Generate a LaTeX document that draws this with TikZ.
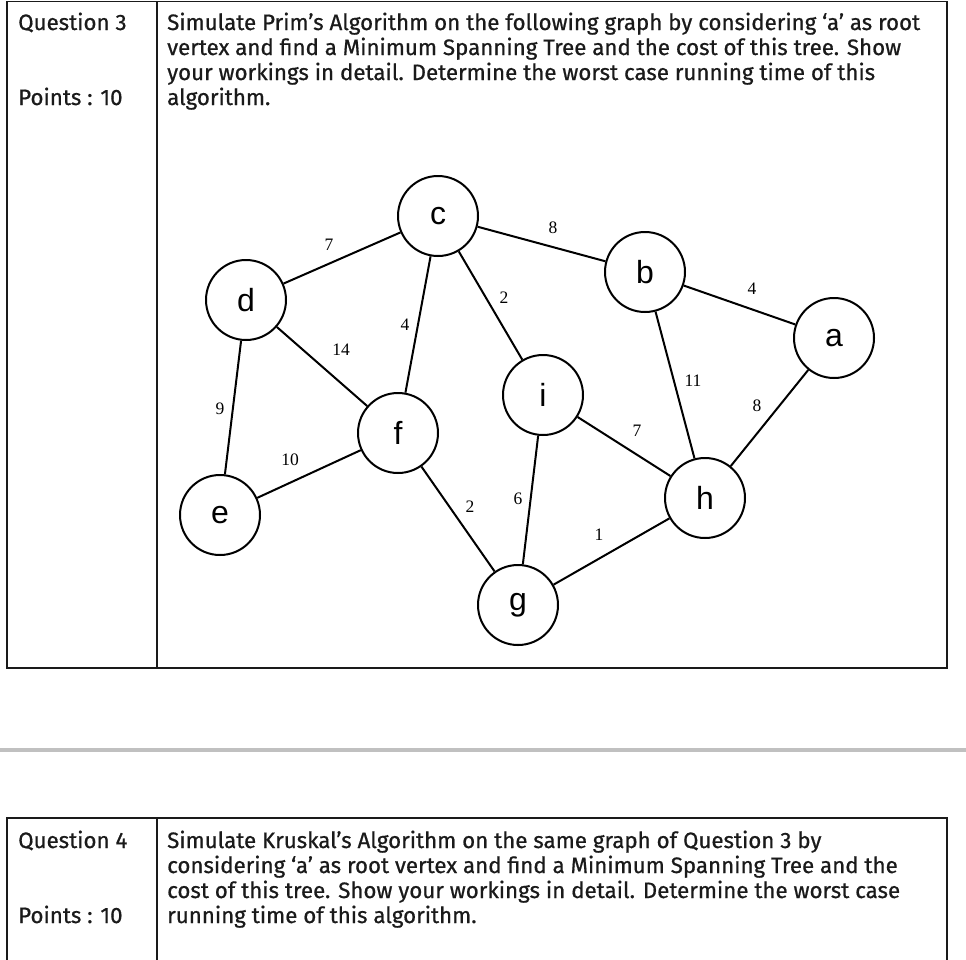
\documentclass[tikz,border=0pt]{standalone}
\usepackage{fontspec}
\setmainfont{Fira Sans}[FakeBold=0.7]
\newfontfamily\vtxfont{Liberation Sans}
\newfontfamily\wtfont{Liberation Serif}
\usetikzlibrary{positioning,calc}
\definecolor{qline}{HTML}{1A1A1A}
\definecolor{sepgray}{HTML}{C0C0C0}
\tikzset{
  tabela/.style={draw=qline,line width=1.9pt},
  qtexto/.style={font=\fontsize{22.3}{25}\selectfont,anchor=base west,align=left,inner sep=0pt,text=qline},
  vert/.style={circle,draw=black,line width=2pt,fill=white,minimum size=80pt,inner sep=0pt,font=\vtxfont\fontsize{32}{32}\selectfont},
  aresta/.style={draw=black,line width=2pt},
  peso/.style={font=\wtfont\fontsize{17.5}{17.5}\selectfont,inner sep=0pt},
}
\begin{document}
\begin{tikzpicture}[x=1pt,y=-1pt]
  \useasboundingbox (0,0) rectangle (966,959);
  % quadro da questao 3
  \draw[tabela] (7,1.5) rectangle (947,668);
  \draw[tabela] (157,1.5) -- (157,668);
  \node[qtexto] (q3) at (18,30) {Question 3};
  \node[qtexto] (pts3) at (18,105) {Points : 10};
  \node[qtexto] (txt3) at (167,105) {Simulate Prim’s Algorithm on the following graph by considering ‘a’ as root\\vertex and find a Minimum Spanning Tree and the cost of this tree. Show\\your workings in detail. Determine the worst case running time of this\\algorithm.};
  % grafo
  \node[vert] (c) at (438,216) {c};
  \node[vert] (d) at (246,300) {d};
  \node[vert] (b) at (645,272) {b};
  \node[vert] (a) at (834,338) {a};
  \node[vert] (i) at (543,395) {i};
  \node[vert] (f) at (398,433) {f};
  \node[vert] (h) at (705,498) {h};
  \node[vert] (e) at (220,515) {e};
  \node[vert] (g) at (518,605) {g};
  \draw[aresta] (d) -- node[peso,shift={(-13,-13.5)}] {7} (c);
  \draw[aresta] (c) -- node[peso,shift={(11.5,-16)}] {8} (b);
  \draw[aresta] (b) -- node[peso,shift={(12.5,-16)}] {4} (a);
  \draw[aresta] (c) -- node[peso,shift={(13.5,-7.5)}] {2} (i);
  \draw[aresta] (c) -- node[peso,shift={(-13,0.5)}] {4} (f);
  \draw[aresta] (d) -- node[peso,shift={(19,-16.5)}] {14} (f);
  \draw[aresta] (b) -- node[peso,shift={(18,-4)}] {11} (h);
  \draw[aresta] (a) -- node[peso,shift={(-12.5,-12)}] {8} (h);
  \draw[aresta] (d) -- node[peso,shift={(-13,1.5)}] {9} (e);
  \draw[aresta] (i) -- node[peso,shift={(13,-15.5)}] {7} (h);
  \draw[aresta] (e) -- node[peso,shift={(-19,-14)}] {10} (f);
  \draw[aresta] (f) -- node[peso,shift={(12,-12)}] {2} (g);
  \draw[aresta] (i) -- node[peso,shift={(-12.5,-1)}] {6} (g);
  \draw[aresta] (g) -- node[peso,shift={(-12.5,-16.5)}] {1} (h);
  % separador
  \draw[sepgray,line width=4pt] (0,749.5) -- (966,749.5);
  % quadro da questao 4
  \draw[tabela] (7,975) -- (7,818) -- (947,818) -- (947,975);
  \draw[tabela] (157,818) -- (157,975);
  \node[qtexto] (q4) at (18,848) {Question 4};
  \node[qtexto] (pts4) at (18,923) {Points : 10};
  \node[qtexto] (txt4) at (167,923) {Simulate Kruskal’s Algorithm on the same graph of Question 3 by\\considering ‘a’ as root vertex and find a Minimum Spanning Tree and the\\cost of this tree. Show your workings in detail. Determine the worst case\\running time of this algorithm.};
\end{tikzpicture}
\end{document}
